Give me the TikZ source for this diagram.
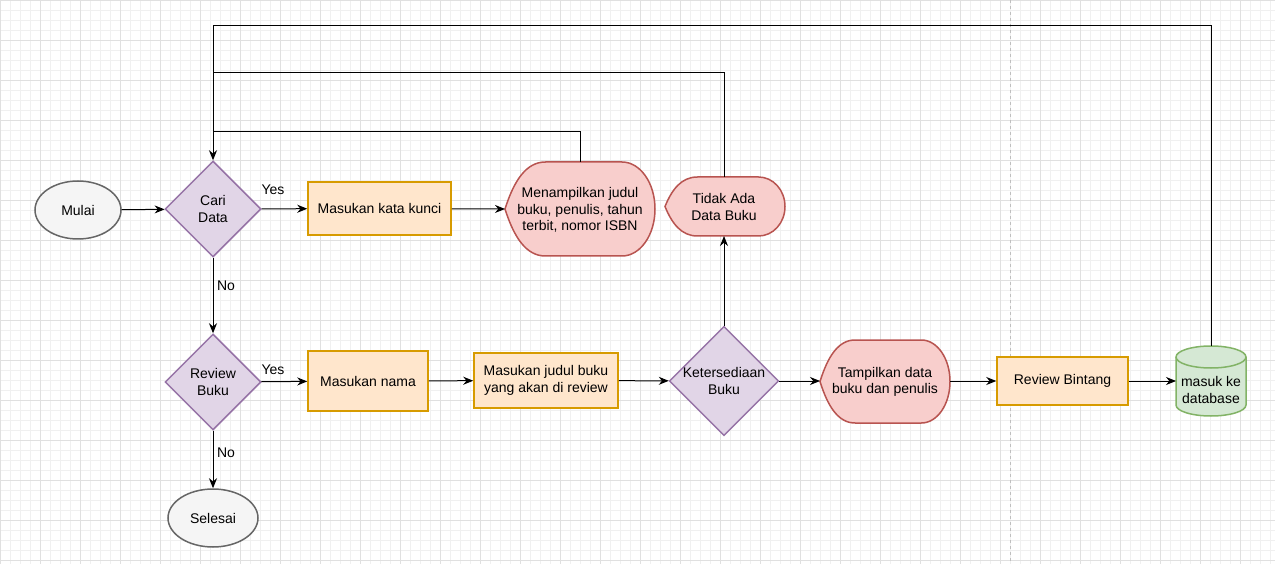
\documentclass[tikz,border=0pt]{standalone}
\usepackage{fontspec}
\setmainfont{Liberation Sans}
\usetikzlibrary{shapes.geometric,arrows.meta}
\definecolor{grayF}{HTML}{F5F5F5}\definecolor{grayS}{HTML}{666666}
\definecolor{purF}{HTML}{E1D5E7}\definecolor{purS}{HTML}{9673A6}
\definecolor{orF}{HTML}{FFE6CC}\definecolor{orS}{HTML}{D79B00}
\definecolor{rdF}{HTML}{F8CECC}\definecolor{rdS}{HTML}{B85450}
\definecolor{grF}{HTML}{D5E8D4}\definecolor{grS}{HTML}{82B366}
\tikzset{
 every node/.style={font=\fontsize{14}{16.5}\selectfont,align=center},
 term/.style={ellipse,draw=grayS,fill=grayF,line width=1.5pt,minimum width=#1,minimum height=58pt},
 dec/.style={diamond,draw=purS,fill=purF,line width=1.5pt,aspect=1,inner sep=0pt,minimum width=#1,minimum height=#1},
 proc/.style={draw=orS,fill=orF,line width=1.5pt},
 disp/.style={draw=rdS,fill=rdF,line width=1.5pt},
 arr/.style={-{Stealth[length=10pt,width=8pt]},line width=1pt},
 ln/.style={line width=1pt},
 lbl/.style={font=\fontsize{14}{16.5}\selectfont}
}
\newcommand{\dispshape}[4]{% x0 y0 x1 y1
 \path[disp] (#1,{(#2+#4)/2}) .. controls ({#1+0.06*(#3-#1)},{#2+0.2*(#4-#2)}) and ({#1+0.14*(#3-#1)},#2) .. ({#1+0.27*(#3-#1)},#2) -- ({#3-0.22*(#3-#1)},#2)
  .. controls ({#3-0.1*(#3-#1)},#2) and (#3,{#2+0.22*(#4-#2)}) .. (#3,{(#2+#4)/2}) .. controls (#3,{#4-0.22*(#4-#2)}) and ({#3-0.1*(#3-#1)},#4) .. ({#3-0.22*(#3-#1)},#4) -- ({#1+0.27*(#3-#1)},#4)
  .. controls ({#1+0.14*(#3-#1)},#4) and ({#1+0.06*(#3-#1)},{#4-0.2*(#4-#2)}) .. (#1,{(#2+#4)/2}) -- cycle;}
\begin{document}
\begin{tikzpicture}[x=1pt,y=-1pt]
\useasboundingbox (0,0) rectangle (1275,564);
\fill[white] (0,0) rectangle (1275,564);
\foreach \i in {0,10,...,1270} \draw[black!6,line width=0.5pt] (\i,0) -- (\i,564);
\foreach \i in {0,10,...,560} \draw[black!6,line width=0.5pt] (0,\i) -- (1275,\i);
\foreach \i in {0,40,...,1270} \draw[black!12,line width=0.5pt] (\i,0) -- (\i,564);
\foreach \i in {0,40,...,560} \draw[black!12,line width=0.5pt] (0,\i) -- (1275,\i);
\draw[black!25,dashed,line width=1pt] (1010,0) -- (1010,564);

\node[term=86pt] (mulai) at (78,210) {Mulai};
\node[dec=96pt] (cari) at (213,209) {Cari\\Data};
\node[proc,minimum width=143pt,minimum height=53pt] (kunci) at (379.5,208.5) {Masukan kata kunci};
\dispshape{505}{162}{655}{256}
\node[inner sep=0pt] (tampil1) at (580,210) {Menampilkan judul\\buku, penulis, tahun\\terbit, nomor ISBN};
\coordinate (t1l) at (505,209); \coordinate (t1t) at (580,162);
\dispshape{665}{177}{785}{236}
\node[inner sep=0pt] (tidak) at (724,207) {Tidak Ada\\Data Buku};
\coordinate (tdt) at (724,177); \coordinate (tdb) at (724,236);
\node[dec=96pt] (review) at (213,382) {Review\\Buku};
\node[proc,minimum width=120pt,minimum height=60pt] (nama) at (368,381) {Masukan nama};
\node[proc,minimum width=144pt,minimum height=55pt] (judul) at (546,380.5) {Masukan judul buku\\yang akan di review};
\node[dec=108pt] (sedia) at (724,381) {Ketersediaan\\Buku};
\dispshape{820}{340}{950}{423}
\node[inner sep=0pt] (tampil2) at (885,382) {Tampilkan data\\buku dan penulis};
\coordinate (t2l) at (820,381); \coordinate (t2r) at (950,381);
\node[proc,minimum width=131pt,minimum height=48pt] (bintang) at (1062.5,381) {Review Bintang};
\path[draw=grS,fill=grF,line width=1.5pt] (1176,357) arc[start angle=180,end angle=360,x radius=35,y radius=11] -- (1246,405) arc[start angle=0,end angle=180,x radius=35,y radius=11] -- cycle;
\draw[grS,line width=1.5pt] (1176,357) arc[start angle=180,end angle=0,x radius=35,y radius=11];
\coordinate (dbl) at (1176,381); \coordinate (dbt) at (1211,346);
\node (db) at (1211,390) {masuk ke\\database};
\node[term=90pt] (selesai) at (213,518) {Selesai};

\draw[arr] (mulai) -- (cari);
\draw[arr] (cari) -- (kunci);
\draw[arr] (kunci) -- (t1l);
\draw[ln] (t1t) |- (213,132);
\draw[ln] (tdt) |- (213,73);
\draw[ln] (dbt) |- (213,26);
\draw[arr] (213,26) -- (cari.north);
\draw[arr] (cari) -- (review);
\draw[arr] (review) -- (nama);
\draw[arr] (nama) -- (judul);
\draw[arr] (judul) -- (sedia);
\draw[arr] (sedia) -- (tdb);
\draw[arr] (sedia) -- (t2l);
\draw[arr] (t2r) -- (bintang);
\draw[arr] (bintang) -- (dbl);
\draw[arr] (review) -- (selesai);
\node[lbl] at (273,190) {Yes};
\node[lbl] at (226,286) {No};
\node[lbl] at (273,370) {Yes};
\node[lbl] at (226,453) {No};
\end{tikzpicture}
\end{document}
